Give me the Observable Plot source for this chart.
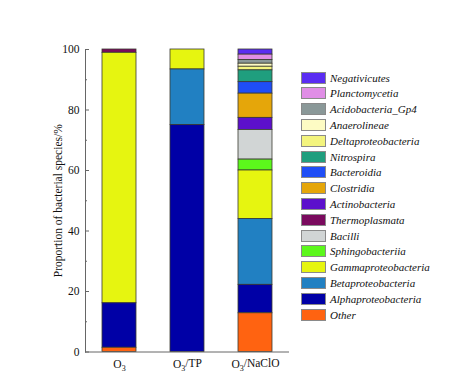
<!DOCTYPE html>
<html><head><meta charset="utf-8">
<script src="https://cdn.jsdelivr.net/npm/d3@7"></script>
<script src="https://cdn.jsdelivr.net/npm/@observablehq/plot@0.6"></script>
<style>
body{margin:0;background:#fff;}
#wrap{position:relative;width:474px;height:381px;font-family:"Liberation Serif","Times New Roman",serif;}
#legend{position:absolute;left:301px;top:69.8px;}
.row{display:flex;align-items:center;height:15.8px;}
.sw{width:25px;height:12px;border:1px solid #8a8a8a;box-sizing:border-box;}
.lab{margin-left:4px;font-style:italic;font-size:11px;color:#111;white-space:nowrap;}
</style>
</head><body>
<div id="wrap"><div id="legend"></div></div>
<script>
// categories
const samples = ["O3", "O3/TP", "O3/NaClO"];
// legend order (top to bottom)
const taxa = ["Negativicutes","Planctomycetia","Acidobacteria_Gp4","Anaerolineae","Deltaproteobacteria","Nitrospira","Bacteroidia","Clostridia","Actinobacteria","Thermoplasmata","Bacilli","Sphingobacteriia","Gammaproteobacteria","Betaproteobacteria","Alphaproteobacteria","Other"];
const colors = ["#5a2cf2","#e08ee6","#8a9898","#fdfbc4","#f3f47e","#1f9e7e","#1f4ef6","#e5a60a","#5c10cc","#7a0a5e","#d1d5d5","#5cf71c","#e6f510","#2180c2","#0000a6","#ff6311"];
// values per sample, same order as taxa (%)
const valuesO3     = [0,0,0,0,0,0,0,0,0,1.1,0,0,82.8,0,14.7,1.4];
const valuesO3TP   = [0,0,0,0,0,0,0,0,0,0,0,0,6.6,18.4,75.0,0];
const valuesO3NaClO= [1.7,1.8,1.2,1.0,1.2,3.9,3.8,8.0,4.0,0,9.8,3.6,16.0,21.8,9.4,12.8];
const yTicks = [0,20,40,60,80,100];
const yMinor = [10,30,50,70,90];

const series = [valuesO3, valuesO3TP, valuesO3NaClO];
const rows = [];
samples.forEach((s, i) => taxa.forEach((t, j) => { if (series[i][j] > 0) rows.push({sample: s, taxon: t, value: series[i][j]}); }));
const stackOrder = taxa.slice().reverse();

const plot = Plot.plot({
  width: 474, height: 381,
  marginLeft: 85, marginRight: 186, marginTop: 49, marginBottom: 29.5,
  style: {fontFamily: "'Liberation Serif','Times New Roman',serif", fontSize: "12px", color: "#111", background: "transparent"},
  x: {domain: samples, paddingInner: 0.5, paddingOuter: 0.24, label: null},
  y: {domain: [0, 100], label: null},
  color: {domain: taxa, range: colors},
  marks: [
    Plot.barY(rows, Plot.stackY({x: "sample", y: "value", fill: "taxon", order: stackOrder, stroke: "#3a3a30", strokeWidth: 0.8})),
    Plot.frame({anchor: "left", stroke: "#666"}),
    Plot.frame({anchor: "bottom", stroke: "#666"}),
    Plot.axisY(yTicks, {tickSize: 0, tickPadding: 6, fontSize: 11.5, label: "Proportion of bacterial species/%", labelAnchor: "center", labelArrow: "none", labelOffset: 32}),
    Plot.axisY(yTicks, {tickSize: -4, text: null, label: null, stroke: "#666"}),
    Plot.axisY(yMinor, {tickSize: -2, text: null, label: null, stroke: "#666"}),
    Plot.axisX({tickSize: 0, tickPadding: 8, fontSize: 11.5, label: null})
  ]
});
document.getElementById("wrap").prepend(plot);

// subscripts in x tick labels (O3 -> O₃)
d3.select(plot).selectAll('g[aria-label="x-axis tick label"] text').each(function() {
  const t = d3.select(this);
  const s = t.text();
  t.text(null);
  t.append("tspan").text("O");
  t.append("tspan").attr("dy", "0.3em").attr("font-size", "8px").text("3");
  if (s.length > 2) t.append("tspan").attr("dy", "-0.3em").text(s.slice(2));
});

// legend
const lg = d3.select("#legend");
taxa.forEach((t, i) => {
  const r = lg.append("div").attr("class", "row");
  r.append("div").attr("class", "sw").style("background", colors[i]);
  r.append("div").attr("class", "lab").text(t);
});
</script>
</body></html>
